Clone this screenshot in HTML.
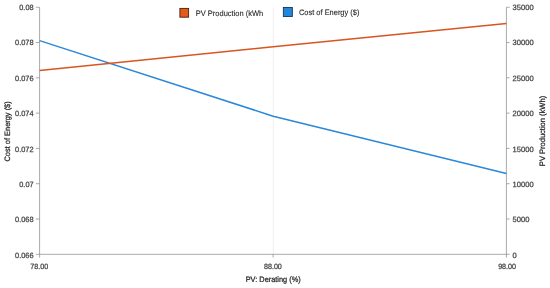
<!DOCTYPE html>
<html><head><meta charset="utf-8"><title>Chart</title>
<style>html,body{margin:0;padding:0;background:#fff}body{width:550px;height:288px;overflow:hidden}</style></head>
<body>
<svg width="550" height="288" viewBox="0 0 550 288" style="display:block;text-rendering:geometricPrecision">
<rect width="550" height="288" fill="#fff"/>
<line x1="273.3" y1="7.25" x2="273.3" y2="254.3" stroke="#ebebeb" stroke-width="0.8"/>
<g stroke="#8c8c8c" stroke-width="0.75" fill="none">
<path d="M39.6 7.25V257.6 M506.4 7.25V257.6 M35.8 254.3H509.6 M273.1 254.3V257.5"/>
<path d="M35.8 7.25H39.6 M506.4 7.25H509.6"/>
<path d="M35.8 42.54H39.6 M506.4 42.54H509.6"/>
<path d="M35.8 77.84H39.6 M506.4 77.84H509.6"/>
<path d="M35.8 113.13H39.6 M506.4 113.13H509.6"/>
<path d="M35.8 148.42H39.6 M506.4 148.42H509.6"/>
<path d="M35.8 183.71H39.6 M506.4 183.71H509.6"/>
<path d="M35.8 219.01H39.6 M506.4 219.01H509.6"/>
</g>
<polyline points="39.6,40.6 273.2,116.2 506.4,173.6" fill="none" stroke="#2b88d9" stroke-width="1.5" stroke-linejoin="round"/>
<polyline points="39.6,70.45 273.2,46.85 506.4,23.4" fill="none" stroke="#d8551f" stroke-width="1.5" stroke-linejoin="round"/>
<g font-family="Liberation Sans, sans-serif" font-size="7.6" fill="#444" stroke="#444" stroke-width="0.25">
<text x="33.6" y="10.05" text-anchor="end" textLength="14.31" lengthAdjust="spacingAndGlyphs">0.08</text>
<text x="33.6" y="45.43" text-anchor="end" textLength="18.51" lengthAdjust="spacingAndGlyphs">0.078</text>
<text x="33.6" y="80.81" text-anchor="end" textLength="18.51" lengthAdjust="spacingAndGlyphs">0.076</text>
<text x="33.6" y="116.19" text-anchor="end" textLength="18.51" lengthAdjust="spacingAndGlyphs">0.074</text>
<text x="33.6" y="151.56" text-anchor="end" textLength="18.51" lengthAdjust="spacingAndGlyphs">0.072</text>
<text x="33.6" y="186.94" text-anchor="end" textLength="14.31" lengthAdjust="spacingAndGlyphs">0.07</text>
<text x="33.6" y="222.32" text-anchor="end" textLength="18.51" lengthAdjust="spacingAndGlyphs">0.068</text>
<text x="33.6" y="257.70" text-anchor="end" textLength="18.51" lengthAdjust="spacingAndGlyphs">0.066</text>
<text x="512.6" y="10.05" textLength="21.02" lengthAdjust="spacingAndGlyphs">35000</text>
<text x="512.6" y="45.43" textLength="21.02" lengthAdjust="spacingAndGlyphs">30000</text>
<text x="512.6" y="80.81" textLength="21.02" lengthAdjust="spacingAndGlyphs">25000</text>
<text x="512.6" y="116.19" textLength="21.02" lengthAdjust="spacingAndGlyphs">20000</text>
<text x="512.6" y="151.56" textLength="21.02" lengthAdjust="spacingAndGlyphs">15000</text>
<text x="512.6" y="186.94" textLength="21.02" lengthAdjust="spacingAndGlyphs">10000</text>
<text x="512.6" y="222.32" textLength="16.82" lengthAdjust="spacingAndGlyphs">5000</text>
<text x="512.6" y="257.70" textLength="4.20" lengthAdjust="spacingAndGlyphs">0</text>
<text x="39.3" y="268.65" text-anchor="middle" textLength="17.90" lengthAdjust="spacingAndGlyphs">78.00</text>
<text x="272.9" y="268.65" text-anchor="middle" textLength="17.90" lengthAdjust="spacingAndGlyphs">88.00</text>
<text x="507.1" y="268.65" text-anchor="middle" textLength="17.90" lengthAdjust="spacingAndGlyphs">98.00</text>
</g>
<g font-family="Liberation Sans, sans-serif" font-size="7.85" fill="#262626" stroke="#262626" stroke-width="0.24">
<text x="273.2" y="282" text-anchor="middle" textLength="55.1" lengthAdjust="spacingAndGlyphs">PV: Derating (%)</text>
<text transform="translate(10.0 131.4) rotate(-90)" text-anchor="middle" textLength="60.2" lengthAdjust="spacingAndGlyphs">Cost of Energy ($)</text>
<text transform="translate(544.7 131.0) rotate(-90)" text-anchor="middle" textLength="70.3" lengthAdjust="spacingAndGlyphs">PV Production (kWh)</text>
</g>
<g font-family="Liberation Sans, sans-serif" font-size="7.85" fill="#262626" stroke="#262626" stroke-width="0.1">
<text x="195.8" y="15.65" textLength="67.4" lengthAdjust="spacingAndGlyphs">PV Production (kWh</text>
<text x="299.0" y="14.95" textLength="60.4" lengthAdjust="spacingAndGlyphs">Cost of Energy ($)</text>
</g>
<rect x="179.9" y="8.4" width="8.7" height="8.8" fill="#e25a1c" stroke="#4a200c" stroke-width="0.9"/>
<rect x="283.35" y="7.5" width="9.0" height="8.95" fill="#2186dc" stroke="#173754" stroke-width="0.9"/>
</svg>
</body></html>
